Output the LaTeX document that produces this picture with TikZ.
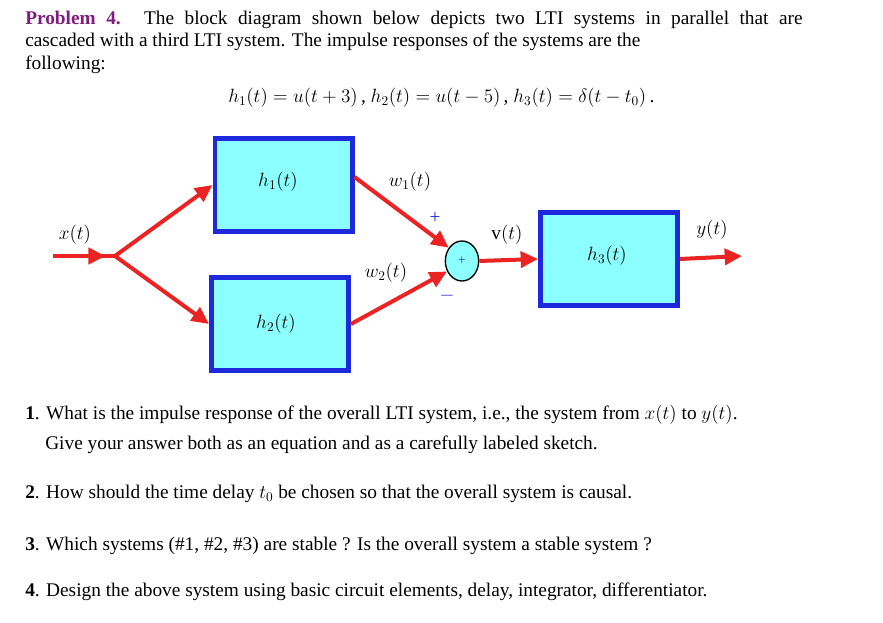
\documentclass[tikz,border=0pt]{standalone}
\usepackage{fontspec}
\setmainfont{Liberation Serif}
\usetikzlibrary{arrows.meta,shapes.geometric,calc}
\definecolor{boxblue}{RGB}{30,40,220}
\definecolor{boxfill}{RGB}{140,255,255}
\definecolor{arr}{RGB}{235,35,35}
\definecolor{purp}{RGB}{128,30,128}
\begin{document}
\begin{tikzpicture}[x=0.75pt,y=-0.75pt,
  blk/.style={draw=boxblue,line width=3.5pt,fill=boxfill,minimum width=103pt,minimum height=70pt,inner sep=0pt},
  sig/.style={draw=arr,line width=3pt,-{Triangle[length=13pt,width=12pt]}},
  seg/.style={draw=arr,line width=3pt},
  txt/.style={anchor=base west,inner sep=0pt,font=\fontsize{14.5}{17}\selectfont},
  lab/.style={inner sep=0pt,font=\fontsize{14.5}{17}\selectfont}]
\useasboundingbox (0,0) rectangle (883,623);
\node[txt] (l1) at (25,25) {\makebox[583pt][s]{\textcolor{purp}{\textbf{Problem 4.}} The block diagram shown below depicts two LTI systems in parallel that are}};
\node[txt] (l2) at (25,47) {cascaded with a third LTI system. The impulse responses of the systems are the};
\node[txt] (l3) at (25,70) {following:};
\node[txt] (eq) at (228,103) {$h_1(t)=u(t+3)$\,, $h_2(t)=u(t-5)$\,, $h_3(t)=\delta(t-t_0)$\,.};

\node[blk] (h1) at (283.5,185) {};
\node[blk] (h2) at (280,324) {};
\node[blk] (h3) at (609,259) {};
\node[lab] (t1) at (278,182) {$h_1(t)$};
\node[lab] (t2) at (276,324) {$h_2(t)$};
\node[lab] (t3) at (607,256) {$h_3(t)$};
\node[draw,fill=boxfill,ellipse,line width=1pt,minimum width=25pt,minimum height=30pt,inner sep=0pt,text=boxblue] (s) at (462,261) {+};
\coordinate (in) at (53,256);
\coordinate (j) at (115,256);
\coordinate (out) at (742,256);
\draw[seg] (in) -- (j);
\draw[sig] (in) -- ($(in)!0.85!(j)$);
\draw[sig] (j) -- (h1.west);
\draw[sig] (j) -- (h2.west);
\coordinate (h1o) at ($(h1.east)+(0,-8)$);
\draw[sig] (h1o) -- (s.135);
\draw[sig] (h2.east) -- (s.215);
\draw[sig] (s.east) -- (h3.west);
\draw[sig] (h3.east) -- (out);

\node[lab] (xl) at (75,235) {$x(t)$};
\node[lab] (w1) at (410,182) {$w_1(t)$};
\node[lab,text=boxblue] (pl) at (435,218) {+};
\node[lab] (vl) at (507,235) {v$(t)$};
\node[lab] (yl) at (712,230) {$y(t)$};
\node[lab] (w2) at (386,273) {$w_2(t)$};
\node[lab,text=boxblue] (mi) at (447,296) {$-$};

\node[txt] (q1) at (25,420) {\textbf{1}. What is the impulse response of the overall LTI system, i.e., the system from $x(t)$ to $y(t)$.};
\node[txt] (q1b) at (45,450) {Give your answer both as an equation and as a carefully labeled sketch.};
\node[txt] (q2) at (25,499) {\textbf{2}. How should the time delay $t_0$ be chosen so that the overall system is causal.};
\node[txt] (q3) at (25,551) {\textbf{3}. Which systems (\#1, \#2, \#3) are stable ? Is the overall system a stable system ?};
\node[txt] (q4) at (25,597) {\textbf{4}. Design the above system using basic circuit elements, delay, integrator, differentiator.};
\end{tikzpicture}
\end{document}
